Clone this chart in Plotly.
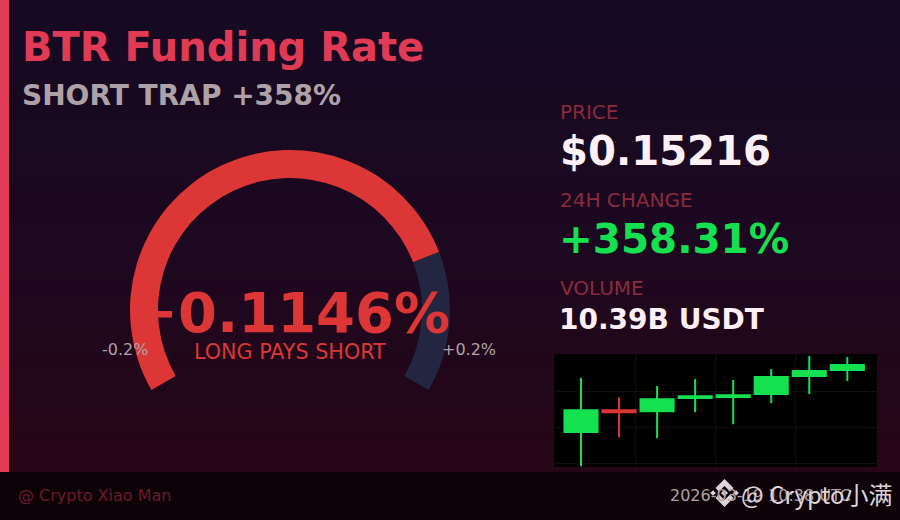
#!/usr/bin/env python3
# -*- coding: utf-8 -*-

import plotly.graph_objects as go

W = 900
H = 520
FONT = 'DejaVu Sans'

# funding gauge
rate = -0.1146
rate_min = -0.2
rate_max = 0.2
gauge_sweep = 240

# candles
candle_x = [0, 1, 2, 3, 4, 5, 6, 7]
candle_open = [0.11760, 0.12963, 0.12908, 0.13630, 0.13686, 0.13852, 0.14852, 0.15186]
candle_high = [0.14741, 0.13685, 0.14296, 0.14685, 0.14630, 0.15241, 0.15963, 0.15907]
candle_low = [0.09852, 0.11463, 0.11407, 0.12852, 0.12185, 0.13352, 0.13852, 0.14574]
candle_close = [0.12963, 0.12852, 0.13574, 0.13740, 0.13796, 0.14796, 0.15129, 0.15463]
grid_x = [1.44, 3.54, 5.65]
grid_y = [0.10, 0.12, 0.14]

# faint dots in the lower part of the background
dot_rows = [405, 416, 443, 449, 460, 468]
dot_cols = list(range(14, 900, 8))

RED = '#dd3636'
PINK = '#e03a55'
GREEN = '#14e050'
LABEL = '#8a2a3a'
WHITE = '#fff0f5'
GREY = '#aea2a8'

fig = go.Figure()

# background gradient
fig.add_trace(go.Heatmap(x=[0, W], y=[0, 240, 472], z=[[0, 0], [0.45, 0.45], [1, 1]],
                         colorscale=[[0, '#150a22'], [0.45, '#1c0820'], [1, '#260516']],
                         zsmooth='best', showscale=False, hoverinfo='skip',
                         xaxis='x', yaxis='y'))

dx = []
dy = []
for r in dot_rows:
    for c in dot_cols:
        dx.append(c)
        dy.append(r)
fig.add_trace(go.Scatter(x=dx, y=dy, mode='markers', hoverinfo='skip', showlegend=False,
                         marker=dict(size=1.2, color='#3f1229', line_width=0),
                         xaxis='x', yaxis='y'))

# gauge, the red part runs from the left end up to the rate
filled = (rate_max - rate) / (rate_max - rate_min) * gauge_sweep
fig.add_trace(go.Pie(values=[filled, gauge_sweep - filled, 360 - gauge_sweep],
                     sort=False, direction='clockwise', rotation=240, hole=132 / 160,
                     marker=dict(colors=[RED, '#232640', 'rgba(0,0,0,0)'], line_width=0),
                     textinfo='none', hoverinfo='skip', showlegend=False,
                     domain=dict(x=[130 / W, 450 / W], y=[1 - 470 / H, 1 - 150 / H])))

# candlesticks
fig.add_trace(go.Candlestick(x=candle_x, open=candle_open, high=candle_high,
                             low=candle_low, close=candle_close,
                             increasing=dict(line=dict(color=GREEN, width=2), fillcolor=GREEN),
                             decreasing=dict(line=dict(color=RED, width=2), fillcolor=RED),
                             whiskerwidth=0, showlegend=False, xaxis='x2', yaxis='y2'))


def diamond(cx, cy, r):
    return f'M{cx - r},{cy} L{cx},{cy - r} L{cx + r},{cy} L{cx},{cy + r} Z '


def chevron(cx, cy, sign):
    # one of the two big arrow pieces of the logo
    return (f'M{cx - 9},{cy + sign * -5} L{cx},{cy + sign * -14} L{cx + 9},{cy + sign * -5} '
            f'L{cx + 5.5},{cy + sign * -1.5} L{cx},{cy + sign * -7} L{cx - 5.5},{cy + sign * -1.5} Z ')


logo = (chevron(724.5, 493, 1) + chevron(724.5, 493, -1) + diamond(724.5, 493, 3.5)
        + diamond(713, 493, 2.8) + diamond(736, 493, 2.8))

shapes = [
    dict(type='rect', xref='x2', yref='y2', x0=-0.71, x1=7.78, y0=0.09815, y1=0.16074,
         fillcolor='#000000', line_width=0, layer='below'),
    dict(type='rect', xref='x', yref='y', x0=0, x1=W, y0=472, y1=H,
         fillcolor='#0d0208', line_width=0),
    dict(type='rect', xref='x', yref='y', x0=0, x1=9, y0=0, y1=472,
         fillcolor=PINK, line_width=0),
]


def label(text, x, y, size, color, anchor='left', bold=False, family=FONT):
    return dict(text=f'<b>{text}</b>' if bold else text, x=x, y=y, xref='x', yref='y',
                xanchor=anchor, yanchor='middle', showarrow=False,
                font=dict(family=family, size=size, color=color))


annotations = [
    label('BTR Funding Rate', 20, 47, 40, PINK, bold=True),
    label('SHORT TRAP +358%', 20, 95, 28, GREY, bold=True),
    label('PRICE', 558, 112, 20, LABEL),
    label('$0.15216', 558, 151, 40.2, WHITE, bold=True),
    label('24H CHANGE', 558, 200, 20, LABEL),
    label('+358.31%', 556.5, 239, 40.4, GREEN, bold=True),
    label('VOLUME', 558, 288, 20, LABEL),
    label('10.39B USDT', 557, 319, 28, WHITE, bold=True),
    label('\u22120.1146%', 290, 312, 56, RED, anchor='center', bold=True),
    label('LONG PAYS SHORT', 290, 352, 20.7, RED, anchor='center'),
    label('-0.2%', 125, 349, 16, GREY, anchor='center'),
    label('+0.2%', 469, 349, 16, GREY, anchor='center'),
    label('@ Crypto Xiao Man', 16, 495, 16, '#6b1a2e'),
    label('2026-03-19 10:38 UTC', 668, 495, 16, GREY),
    label('@ Crypto小满', 739, 493, 24, '#dcd4d8', family='Noto Sans CJK SC'),
]

fig.update_layout(
    width=W, height=H, autosize=False, margin=dict(l=0, r=0, t=0, b=0),
    paper_bgcolor='#150a22', plot_bgcolor='#150a22', showlegend=False,
    boxgap=0.13, boxgroupgap=0, shapes=shapes, annotations=annotations,
    xaxis=dict(domain=[0, 1], range=[0, W], visible=False, fixedrange=True),
    yaxis=dict(domain=[0, 1], range=[H, 0], visible=False, fixedrange=True),
    xaxis2=dict(domain=[554 / W, 877 / W], range=[-0.71, 7.78], anchor='y2',
                tickvals=grid_x, showticklabels=False, ticks='', zeroline=False,
                gridcolor='#170b10', gridwidth=1, rangeslider=dict(visible=False)),
    yaxis2=dict(domain=[1 - 467 / H, 1 - 354 / H], range=[0.09815, 0.16074], anchor='x2',
                tickvals=grid_y, showticklabels=False, ticks='', zeroline=False,
                gridcolor='#170b10', gridwidth=1),
)
fig.add_shape(type='path', path=logo, xref='x', yref='y', fillcolor='#dcd4d8', line_width=0)

# the page's default body margin would push the figure 8px off
fig.write_html('out.html', post_script="document.body.style.margin='0';document.body.style.overflow='hidden';",
               config=dict(displayModeBar=False))
